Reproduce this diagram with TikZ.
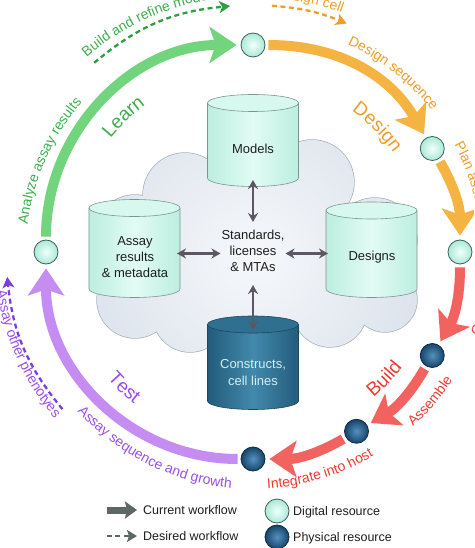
\documentclass[tikz,border=0pt]{standalone}
\usepackage{fontspec}
\setmainfont{Liberation Sans}
\usetikzlibrary{arrows.meta,decorations.text,calc}
\definecolor{greenA}{HTML}{72D57D}
\definecolor{greenT}{HTML}{3CAD4C}
\definecolor{greenD}{HTML}{2E9F3E}
\definecolor{orangeA}{HTML}{F5B342}
\definecolor{orangeT}{HTML}{EF9D25}
\definecolor{redA}{HTML}{F2625F}
\definecolor{redT}{HTML}{EE3A31}
\definecolor{purpleA}{HTML}{C58CF1}
\definecolor{purpleT}{HTML}{9A4EE8}
\definecolor{purpleD}{HTML}{7B3EE3}
\definecolor{dblgray}{HTML}{5C5762}
\definecolor{leggray}{HTML}{5E6766}
\definecolor{digin}{HTML}{F4FFFC}
\definecolor{digout}{HTML}{A9E9D7}
\definecolor{digbord}{HTML}{3E5F57}
\definecolor{phyin}{HTML}{5591BD}
\definecolor{phyout}{HTML}{16456C}
\definecolor{phybord}{HTML}{0E2C45}
\definecolor{cylside}{HTML}{BCEEE0}
\definecolor{cylmid}{HTML}{E2FBF5}
\definecolor{cyltop}{HTML}{D6F8EF}
\definecolor{cylline}{HTML}{7D9590}
\definecolor{conside}{HTML}{235C7B}
\definecolor{conmid}{HTML}{4289AC}
\definecolor{contop}{HTML}{2F7091}
\definecolor{conline}{HTML}{1B4760}
\definecolor{context}{HTML}{D3EEF4}
\definecolor{cloudline}{HTML}{A3AEBB}
\definecolor{cloudin}{HTML}{F6F8FB}
\definecolor{cloudout}{HTML}{DCE3EC}
\definecolor{txtdark}{HTML}{1E1E1E}
\newcommand\txG{\fontsize{14}{14}\selectfont\color{greenT}}
\newcommand\txO{\fontsize{14}{14}\selectfont\color{orangeT}}
\newcommand\txR{\fontsize{14}{14}\selectfont\color{redT}}
\newcommand\txP{\fontsize{14}{14}\selectfont\color{purpleT}}
\newcommand\bgG{\fontsize{19}{19}\selectfont\color{greenT}}
\newcommand\bgO{\fontsize{19}{19}\selectfont\color{orangeT}}
\newcommand\bgR{\fontsize{19}{19}\selectfont\color{redT}}
\newcommand\bgP{\fontsize{19}{19}\selectfont\color{purpleT}}
\newcommand\drawcyl[7]{%
  \shade[left color=#4, right color=#4, middle color=#5] (#1-45.5,#2) -- (#1-45.5,#3) arc[start angle=180,end angle=360,x radius=45.5,y radius=8.5] -- (#1+45.5,#2) -- cycle;
  \fill[#6] (#1,#2) ellipse[x radius=45.5, y radius=8.5];
  \draw[#7, line width=0.6pt] (#1-45.5,#2) -- (#1-45.5,#3) arc[start angle=180,end angle=360,x radius=45.5,y radius=8.5] -- (#1+45.5,#2);
  \draw[#7, line width=0.6pt] (#1,#2) ellipse[x radius=45.5, y radius=8.5];
}
\def\cloudlist{-68/57/42, -3/82/35, 59/70/42, 122/12/42, 132/-48/32, 77/-58/37, 2/-58/35, -63/-63/37, -118/-48/38, -118/17/40, 2/-3/85}
\tikzset{
  digital/.style={circle, minimum size=24pt, inner sep=0pt, draw=digbord, line width=0.8pt, inner color=digin, outer color=digout},
  physical/.style={circle, minimum size=24pt, inner sep=0pt, draw=phybord, line width=0.8pt, inner color=phyin, outer color=phyout},
  ringarrow/.style={line width=10pt, draw=#1, -{Stealth[length=27pt,width=36pt,inset=6pt]}, shorten <=3pt, shorten >=4pt},
  dasharrow/.style={line width=2.3pt, draw=#1, dash pattern=on 5pt off 3.5pt, -{Stealth[length=11pt,width=12pt,inset=3pt]}},
  region/.style={inner sep=0pt, outer sep=0pt},
  cyltext/.style={font=\fontsize{13}{16}\selectfont, text=txtdark, align=center, inner sep=0pt},
  dbl/.style={line width=2.4pt, draw=dblgray, {Stealth[length=9pt,width=10pt]}-{Stealth[length=9pt,width=10pt]}},
  legtext/.style={font=\fontsize{12.5}{14}\selectfont, text=txtdark, inner sep=0pt, anchor=base west},
  along/.style={decorate, decoration={text along path, text={#1}}}
}
\begin{document}
\begin{tikzpicture}[x=1pt,y=1pt]
\useasboundingbox (-253,-296) rectangle (221,252);
\clip (-253,-296) rectangle (221,252);

% cloud
\path[draw=cloudline, line width=1.4pt] foreach \x/\y/\r in \cloudlist {(\x,\y) circle[radius=\r]};
\begin{scope}
  \clip foreach \x/\y/\r in \cloudlist {(\x,\y) circle[radius=\r]};
  \shade[inner color=cloudin, outer color=cloudout] (0,-5) circle[radius=175];
\end{scope}

% cylinders
\drawcyl{0}{149}{74}{cylside}{cylmid}{cyltop}{cylline}
\drawcyl{-118.5}{44}{-37}{cylside}{cylmid}{cyltop}{cylline}
\drawcyl{118.5}{41.5}{-37}{cylside}{cylmid}{cyltop}{cylline}
\drawcyl{0}{-72.5}{-149}{conside}{conmid}{contop}{conline}

\node[region, minimum width=91pt, minimum height=88pt] (models) at (0,116) {};
\node[region, minimum width=85pt, minimum height=80pt] (assay) at (-118.5,-1.5) {};
\node[region, minimum width=87pt, minimum height=80pt] (designs) at (118.5,-1.5) {};
\node[region, minimum width=91pt, minimum height=79pt] (constructs) at (0,-117.5) {};
\node[region, minimum width=65pt, minimum height=63pt] (std) at (0,-1.5) {};

\node[cyltext] (modelstxt) at (0,103) {Models};
\node[cyltext] (assaytxt) at (-118,-5) {Assay\\results\\\& metadata};
\node[cyltext] (designstxt) at (119,-5) {Designs};
\node[cyltext] (stdtxt) at (0,1) {Standards,\\licenses\\\& MTAs};
\node[cyltext, text=context, font=\fontsize{13}{17}\selectfont] (consttxt) at (0,-121) {Constructs,\\cell lines};

\draw[dbl] (models) -- (std);
\draw[dbl] (assay) -- (std);
\draw[dbl] (std) -- (designs);
\draw[dbl] (std) -- (constructs);

% ring nodes
\node[digital] (n90) at (90:207) {};
\node[digital] (n30) at (30:207) {};
\node[digital] (n0) at (0:207) {};
\node[physical] (p1) at (-30:207) {};
\node[physical] (p2) at (-60:207) {};
\node[physical] (p3) at (-90:207) {};
\node[digital] (n180) at (180:207) {};

% ring arrows
\draw[ringarrow=greenA] (n180) to[bend left=45] (n90);
\draw[ringarrow=orangeA] (n90) to[bend left=30] (n30);
\draw[ringarrow=orangeA] (n30) to[bend left=15] (n0);
\draw[ringarrow=redA] (n0) to[bend left=15] (p1);
\draw[ringarrow=redA] (p1) to[bend left=15] (p2);
\draw[ringarrow=redA] (p2) to[bend left=15] (p3);
\draw[ringarrow=purpleA] (p3) to[bend left=45] (n180);

% dashed arrows
\coordinate (gd1) at (130:247);
\coordinate (gd2) at (95.3:247);
\coordinate (od1) at (85.6:247);
\coordinate (od2) at (67.7:247);
\coordinate (pd1) at (219.5:247);
\coordinate (pd2) at (185.8:247);
\draw[dasharrow=greenD] (gd1) to[bend left=17.35] (gd2);
\draw[dasharrow=orangeT] (od1) to[bend left=8.95] (od2);
\draw[dasharrow=purpleD] (pd1) to[bend left=16.85] (pd2);

% labels along the ring
\path[along={|\txG|Build and refine models}] (130.5:256) arc[start angle=130.5,end angle=50,radius=256];
\path[along={|\txO|Design cell}] (85:255) arc[start angle=85,end angle=40,radius=255];
\path[along={|\txG|Analyze assay results}] (173:227) arc[start angle=173,end angle=110,radius=227];
\path[along={|\bgG|Learn}] (141.5:182) arc[start angle=141.5,end angle=100,radius=182];
\path[along={|\txO|Design sequence}] (65.5:228) arc[start angle=65.5,end angle=20,radius=228];
\path[along={|\bgO|Design}] (55:172) arc[start angle=55,end angle=15,radius=172];
\path[along={|\txO|Plan assembly}] (28:228) arc[start angle=28,end angle=-30,radius=228];
\path[along={|\txR|Order DNA}] (-20.5:242) arc[start angle=-20.5,end angle=20,radius=242];
\path[along={|\bgR|Build}] (-50.5:189) arc[start angle=-50.5,end angle=-10,radius=189];
\path[along={|\txR|Assemble}] (-47.5:237) arc[start angle=-47.5,end angle=0,radius=237];
\path[along={|\txR|Integrate into host}] (-86.5:237) arc[start angle=-86.5,end angle=-40,radius=237];
\path[along={|\bgP|Test}] (-139:193) arc[start angle=-139,end angle=-100,radius=193];
\path[along={|\txP|Assay sequence and growth}] (-137.8:237) arc[start angle=-137.8,end angle=-80,radius=237];
\path[along={|\txP|Assay other phenotyes}] (188.5:259) arc[start angle=188.5,end angle=240,radius=259];

% legend
\coordinate (la1) at (-146,-258);
\coordinate (la2) at (-146,-284);
\node[legtext] (lt1) at (-110,-262.5) {Current workflow};
\node[legtext] (lt2) at (-110,-288.5) {Desired workflow};
\draw[line width=7pt, draw=leggray, -{Stealth[length=12pt,width=17pt,inset=2pt]}] (la1) -- (la1 -| lt1.west) [shorten >=6pt];
\draw[line width=2pt, draw=leggray, dash pattern=on 5pt off 3.5pt, -{Stealth[length=10pt,width=12pt,inset=2pt]}] (la2) -- (la2 -| lt2.west) [shorten >=6pt];
\node[digital] (ld) at (24,-259) {};
\node[physical] (lp) at (24,-285) {};
\node[legtext] (ldt) at (40,-263.5) {Digital resource};
\node[legtext] (lpt) at (40,-289.5) {Physical resource};
\end{tikzpicture}
\end{document}
